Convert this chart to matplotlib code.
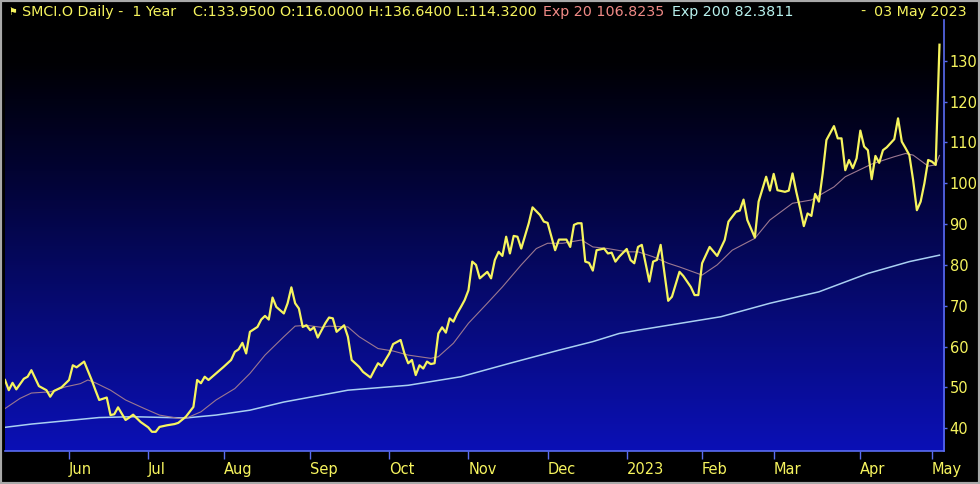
import numpy as np
import pandas as pd
import matplotlib
matplotlib.use("Agg")
import matplotlib.pyplot as plt
from matplotlib.colors import LinearSegmentedColormap
from matplotlib.patches import Rectangle

# trading calendar (NYSE holidays in the window)
holidays = ["2022-05-30", "2022-06-20", "2022-07-04", "2022-09-05", "2022-11-24",
            "2022-12-26", "2023-01-02", "2023-01-16", "2023-02-20", "2023-04-07"]
sessions = pd.bdate_range("2022-05-04", "2023-05-03", freq="C", holidays=holidays)

# close (session index -> price)
close_day = [2, 3, 4, 5, 7, 8, 9, 11, 13, 14, 15, 17, 19, 20, 21, 23, 25, 26, 27, 29,
             30, 31, 32, 34, 35, 36, 38, 40, 41, 42, 43, 45, 47, 48, 50, 52, 53, 54, 55, 56,
             58, 60, 62, 63, 64, 65, 66, 67, 69, 70, 71, 72, 73, 74, 76, 77, 78, 79, 80, 81,
             82, 83, 84, 85, 87, 88, 89, 90, 92, 93, 94, 96, 97, 99, 100, 101, 102, 104, 105, 107,
             108, 109, 110, 111, 112, 113, 114, 115, 116, 117, 118, 119, 120, 121, 122, 123, 124, 125, 126, 127,
             128, 129, 130, 131, 132, 133, 134, 135, 136, 137, 138, 139, 141, 142, 144, 145, 146, 148, 149, 151,
             152, 153, 154, 155, 156, 157, 158, 159, 161, 162, 163, 164, 165, 167, 168, 169, 170, 171, 173, 174,
             175, 176, 178, 179, 181, 182, 184, 185, 186, 187, 189, 191, 193, 194, 196, 197, 198, 199, 201, 202,
             204, 205, 206, 207, 209, 210, 211, 212, 213, 214, 215, 216, 217, 218, 219, 220, 222, 223, 224, 225,
             226, 227, 228, 229, 230, 231, 232, 233, 234, 235, 236, 238, 239, 240, 241, 242, 243, 244, 245, 246,
             247, 248, 249, 250]
close = [51.8, 49.3, 51.1, 49.5, 52.1, 52.6, 54.2, 50.3, 49.3, 47.7, 49.1, 50.0, 51.8, 55.4, 54.9, 56.3, 51.8, 49.3, 46.9, 47.5,
         43.2, 43.4, 45.1, 42.0, 42.6, 43.3, 41.5, 40.2, 39.1, 39.1, 40.3, 40.7, 41.0, 41.3, 42.8, 45.2, 51.8, 51.0, 52.6, 51.8,
         53.4, 55.0, 56.7, 58.7, 59.3, 60.9, 58.3, 63.6, 64.8, 66.6, 67.5, 66.6, 72.0, 69.7, 68.1, 70.6, 74.5, 70.6, 69.3, 64.8,
         65.2, 64.0, 64.7, 62.2, 65.7, 67.1, 66.9, 63.6, 65.2, 62.4, 56.7, 55.0, 53.8, 52.4, 54.2, 55.9, 55.2, 58.3, 60.6, 61.6,
         58.3, 55.9, 56.7, 53.0, 55.4, 54.6, 56.3, 55.7, 55.9, 63.2, 64.7, 63.4, 66.9, 66.1, 68.1, 69.7, 71.4, 73.8, 80.8, 80.0,
         76.7, 77.5, 78.3, 76.7, 81.2, 83.2, 82.2, 86.9, 82.8, 87.1, 86.9, 84.0, 90.2, 94.1, 92.2, 90.6, 90.3, 83.6, 86.2, 86.2,
         84.4, 89.8, 90.2, 90.2, 80.8, 80.5, 78.6, 83.6, 84.0, 82.8, 83.0, 80.8, 82.0, 83.9, 81.2, 80.4, 84.4, 84.9, 75.9, 80.8,
         81.2, 84.9, 71.2, 72.2, 78.3, 77.3, 74.6, 72.6, 72.6, 80.4, 84.4, 82.2, 86.1, 90.6, 93.0, 93.3, 96.0, 91.0, 86.7, 95.5,
         101.6, 98.2, 102.3, 98.3, 97.9, 98.2, 102.4, 97.9, 93.9, 89.5, 92.6, 92.0, 97.4, 95.5, 102.4, 110.6, 114.0, 111.0, 111.0, 103.2,
         105.7, 103.7, 106.1, 112.9, 109.0, 108.1, 101.0, 106.7, 105.0, 108.1, 108.8, 110.8, 115.9, 110.2, 108.6, 106.9, 100.8, 93.4, 95.5, 100.0,
         105.7, 105.3, 104.5, 133.95]

# Exp 20 moving average
ema20_day = [2, 6, 9, 14, 18, 22, 24, 26, 30, 34, 39, 43, 48, 50, 54, 58, 63, 67, 71, 76,
             79, 82, 86, 88, 93, 96, 101, 105, 109, 115, 117, 121, 125, 130, 134, 139, 143, 146, 150, 155,
             158, 162, 167, 170, 174, 178, 181, 187, 191, 195, 201, 205, 211, 216, 222, 225, 232, 238, 241, 243,
             247, 249, 250]
ema20 = [44.8, 47.3, 48.6, 48.9, 50.1, 50.9, 51.8, 51.1, 49.3, 46.9, 44.8, 43.2, 42.4, 42.4, 44.0, 46.9, 49.7, 53.4, 57.9, 62.4,
         65.0, 65.2, 64.7, 65.0, 64.8, 62.4, 59.5, 58.9, 57.9, 57.1, 57.5, 60.8, 65.7, 70.6, 74.6, 80.0, 84.0, 85.3, 85.3, 86.1,
         84.4, 84.0, 83.2, 83.2, 82.0, 80.4, 79.5, 77.5, 80.0, 83.6, 86.5, 91.0, 95.1, 95.9, 99.1, 101.6, 104.7, 106.5, 107.3, 106.9,
         104.2, 104.5, 106.82]

# Exp 200 moving average
ema200_day = [2, 9, 18, 27, 36, 45, 50, 58, 67, 76, 86, 93, 109, 123, 136, 149, 158, 165, 170, 178,
              192, 205, 218, 231, 242, 250]
ema200 = [40.2, 41.0, 41.8, 42.6, 42.8, 42.6, 42.5, 43.2, 44.4, 46.4, 48.1, 49.3, 50.5, 52.6, 55.9, 59.1, 61.2, 63.2, 64.0, 65.2,
          67.3, 70.6, 73.4, 77.9, 80.8, 82.38]

y_ticks = [40, 50, 60, 70, 80, 90, 100, 110, 120, 130]

YELLOW = "#f6f45e"
BLUE_AX = "#5a6cf0"

fig = plt.figure(figsize=(9.8, 4.84), dpi=100, facecolor="black")
ax = fig.add_axes([5 / 980, 33 / 484, 939 / 980, 431 / 484])
ax.set_facecolor("black")

xlim = (2.0, 251.2)
ylim = (34.4, 140.0)
cmap = LinearSegmentedColormap.from_list(
    "bg", [(0.0, "#0b10b6"), (0.3, "#070b7a"), (0.65, "#020332"), (0.9, "#000004"), (1.0, "#000000")])
grad = np.linspace(0, 1, 256).reshape(-1, 1)
ax.imshow(grad, extent=[xlim[0], xlim[1], ylim[0], ylim[1]], origin="lower",
          aspect="auto", cmap=cmap, zorder=0)

ax.plot(ema200_day, ema200, color="#a9d0f2", lw=1.1, zorder=2)
ax.plot(ema20_day, ema20, color="#9c7890", lw=0.8, zorder=3)
ax.plot(close_day, close, color=YELLOW, lw=1.6, zorder=4)

ax.set_xlim(*xlim)
ax.set_ylim(*ylim)

# month ticks at the first session of each month
months = pd.Series(np.arange(len(sessions)), index=sessions)
firsts = months.groupby([sessions.year, sessions.month]).first()
firsts = firsts[firsts > 0]
tick_pos = list(firsts.values)
tick_lab = [("2023" if m == 1 else pd.Timestamp(year=y, month=m, day=1).strftime("%b"))
            for (y, m) in firsts.index]
ax.set_xticks(tick_pos)
ax.set_xticklabels(tick_lab, ha="left")
ax.tick_params(axis="x", colors=BLUE_AX, length=6, width=1, direction="out",
               labelcolor=YELLOW, labelsize=10.5, pad=2)

ax.yaxis.tick_right()
ax.set_yticks(y_ticks)
ax.set_yticklabels([str(v) for v in y_ticks])
ax.tick_params(axis="y", colors=BLUE_AX, length=2, width=1, direction="out",
               labelcolor=YELLOW, labelsize=10.5, pad=2)

for s in ["left", "top"]:
    ax.spines[s].set_visible(False)
for s in ["right", "bottom"]:
    ax.spines[s].set_color(BLUE_AX)
    ax.spines[s].set_linewidth(1.2)

# header
fs = 10.3
hy = 1 - 12 / 484
fig.text(8 / 980, hy, "\u2691", color=YELLOW, fontsize=7, va="center")
fig.text(22 / 980, hy, "SMCI.O Daily -  1 Year", color=YELLOW, fontsize=fs, va="center")
fig.text(193 / 980, hy, "C:133.9500 O:116.0000 H:136.6400 L:114.3200",
         color=YELLOW, fontsize=fs, va="center")
fig.text(543 / 980, hy, "Exp 20 106.8235", color="#f08a86", fontsize=fs, va="center")
fig.text(672 / 980, hy, "Exp 200 82.3811", color="#b8f2ee", fontsize=fs, va="center")
fig.text(860 / 980, hy, "-", color=YELLOW, fontsize=fs, va="center")
fig.text(967 / 980, hy, "03 May 2023", color=YELLOW, fontsize=fs, va="center", ha="right")

# grey window frame
fig.patches.append(Rectangle((0, 0), 1, 1, transform=fig.transFigure, fill=False,
                             edgecolor="#a9a9a9", lw=3))

fig.savefig("out.png", dpi=100, facecolor="black")
